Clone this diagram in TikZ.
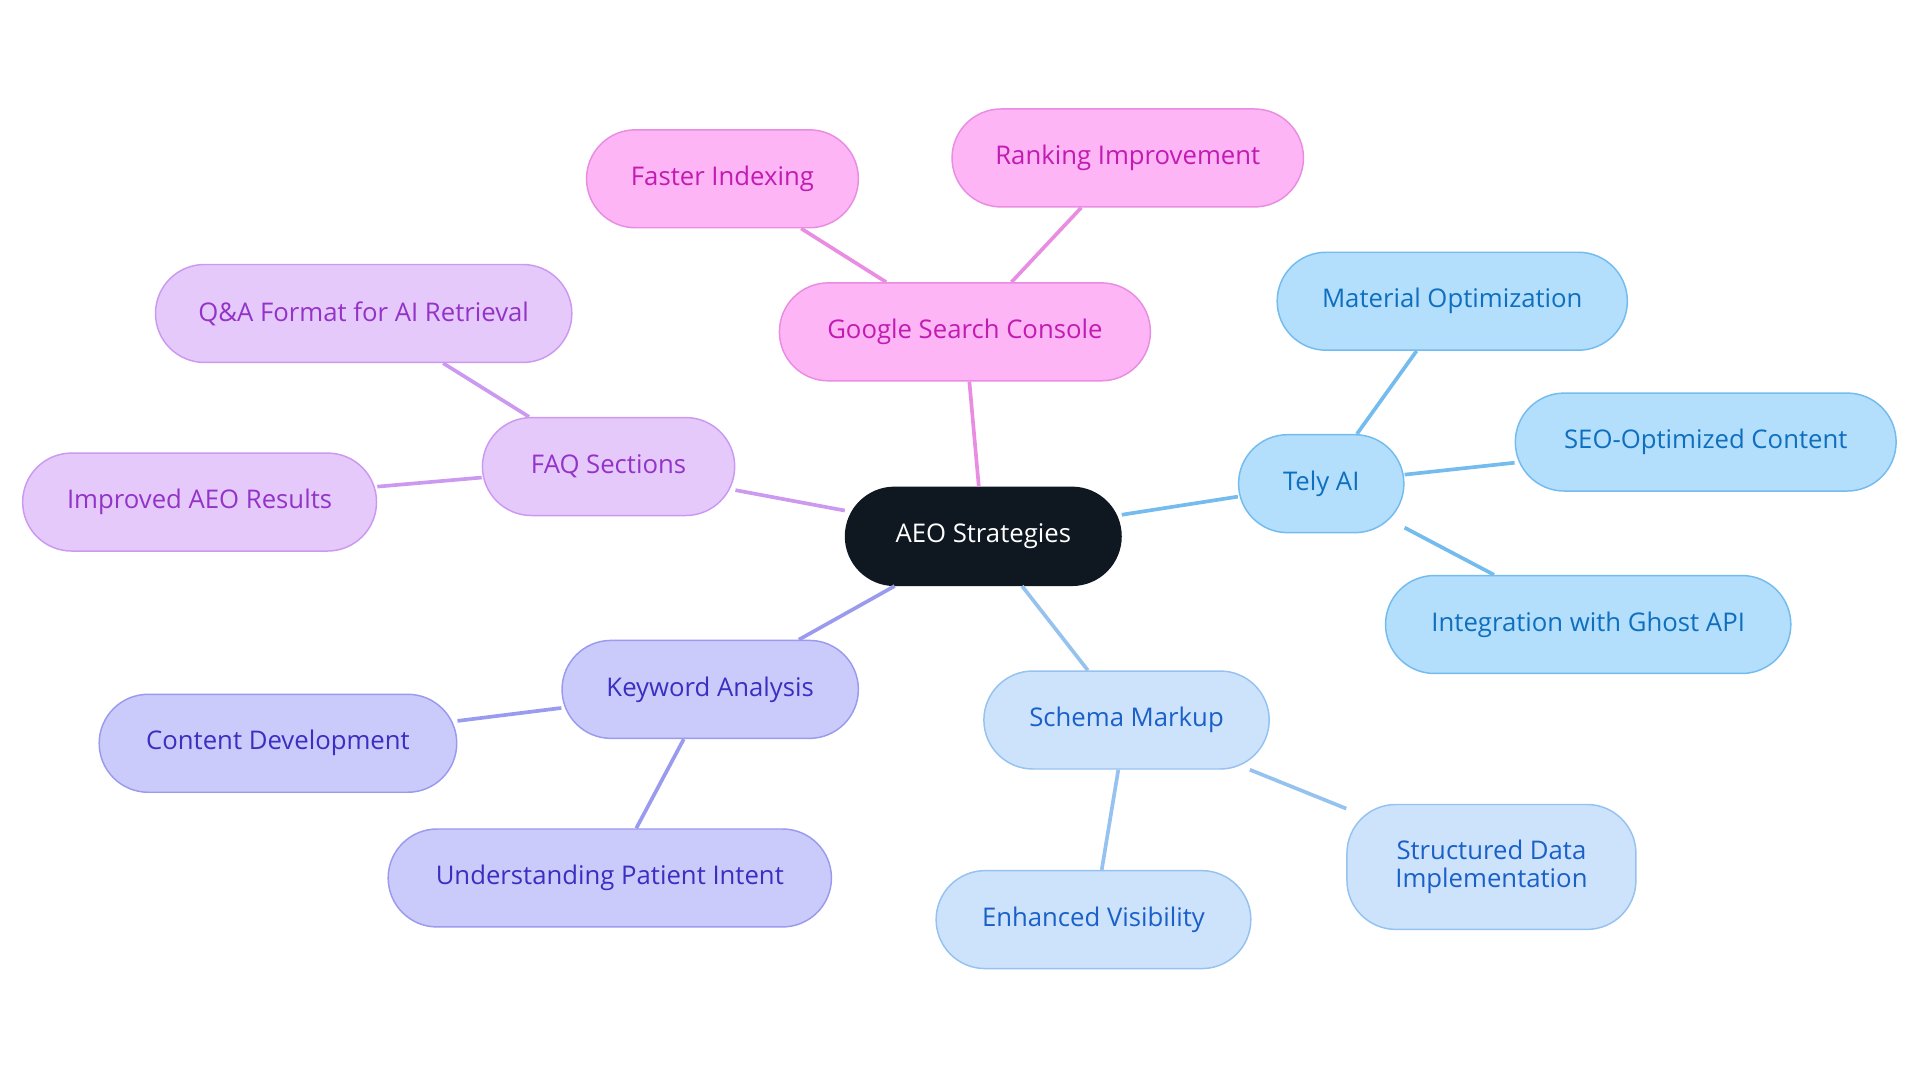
\documentclass[tikz,border=0pt]{standalone}
\usepackage{fontspec}
\setmainfont{Open Sans}
\definecolor{pinkF}{HTML}{FDB5F6}\definecolor{pinkD}{HTML}{E98DE2}\definecolor{pinkT}{HTML}{C21BB2}
\definecolor{purF}{HTML}{E6C9FB}\definecolor{purD}{HTML}{CC99F0}\definecolor{purT}{HTML}{9333C8}
\definecolor{bluF}{HTML}{B3DEFC}\definecolor{bluD}{HTML}{74BBEE}\definecolor{bluT}{HTML}{0F6FBF}
\definecolor{schF}{HTML}{CDE3FB}\definecolor{schD}{HTML}{96C2F0}\definecolor{schT}{HTML}{1A60C8}
\definecolor{kwF}{HTML}{CBCBFB}\definecolor{kwD}{HTML}{9A9AEE}\definecolor{kwT}{HTML}{3A2FC0}
\definecolor{rootF}{HTML}{0F1720}
\tikzset{
 base/.style={rounded corners=20pt,minimum height=40pt,font=\fontsize{10.5}{12}\selectfont,align=center,draw,line width=0.6pt},
 pinkn/.style={base,fill=pinkF,draw=pinkD,text=pinkT},
 purn/.style={base,fill=purF,draw=purD,text=purT},
 blun/.style={base,fill=bluF,draw=bluD,text=bluT},
 schn/.style={base,fill=schF,draw=schD,text=schT},
 kwn/.style={base,fill=kwF,draw=kwD,text=kwT},
 edge/.style={line width=1.5pt}
}
\begin{document}
\begin{tikzpicture}[x=0.5pt,y=-0.5pt]
\useasboundingbox (0,0) rectangle (1568,884);
\node[base,fill=rootF,draw=rootF,text=white,minimum width=112.5pt] (root) at (803,438) {AEO Strategies};
\node[pinkn,minimum width=151.5pt] (gsc) at (788,271) {Google Search Console};
\node[pinkn,minimum width=111pt] (fi) at (590,146) {Faster Indexing};
\node[pinkn,minimum width=143.5pt] (ri) at (921,129) {Ranking Improvement};
\node[purn,minimum width=103pt] (faq) at (497,381) {FAQ Sections};
\node[purn,minimum width=170pt] (qa) at (297,256) {Q\&A Format for AI Retrieval};
\node[purn,minimum width=144.5pt] (iar) at (163,410) {Improved AEO Results};
\node[blun,minimum width=67.5pt] (tely) at (1079,395) {Tely AI};
\node[blun,minimum width=143pt] (mo) at (1186,246) {Material Optimization};
\node[blun,minimum width=155.5pt] (seo) at (1393,361) {SEO-Optimized Content};
\node[blun,minimum width=165.5pt] (gh) at (1297,510) {Integration with Ghost API};
\node[schn,minimum width=116.5pt] (sm) at (920,588) {Schema Markup};
\node[schn,minimum width=118pt,minimum height=51pt,font=\fontsize{10.5}{11.5}\selectfont] (sd) at (1218,708) {Structured Data\\Implementation};
\node[schn,minimum width=128.5pt] (ev) at (893,751) {Enhanced Visibility};
\node[kwn,minimum width=121pt] (kw) at (580,563) {Keyword Analysis};
\node[kwn,minimum width=146pt] (cd) at (227,607) {Content Development};
\node[kwn,minimum width=181pt] (upi) at (498,717) {Understanding Patient Intent};
\draw[edge,pinkD] (root) -- (gsc); \draw[edge,pinkD] (gsc) -- (fi); \draw[edge,pinkD] (gsc) -- (ri);
\draw[edge,purD] (root) -- (faq); \draw[edge,purD] (faq) -- (qa); \draw[edge,purD] (faq) -- (iar);
\draw[edge,bluD] (root) -- (tely); \draw[edge,bluD] (tely) -- (mo); \draw[edge,bluD] (tely) -- (seo); \draw[edge,bluD] (tely) -- (gh);
\draw[edge,schD] (root) -- (sm); \draw[edge,schD] (sm) -- (sd); \draw[edge,schD] (sm) -- (ev);
\draw[edge,kwD] (root) -- (kw); \draw[edge,kwD] (kw) -- (cd); \draw[edge,kwD] (kw) -- (upi);
\end{tikzpicture}
\end{document}
